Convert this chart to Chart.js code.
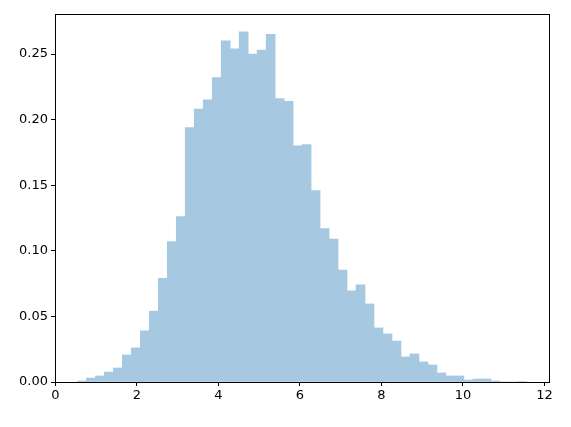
<!DOCTYPE html>
<html><head><meta charset="utf-8">
<script src="https://cdn.jsdelivr.net/npm/chart.js@4"></script>
<style>html,body{margin:0;padding:0;background:#fff}#c{display:block}</style>
</head><body>
<div style="width:571px;height:427px"><canvas id="c"></canvas></div>
<script>
const binStart = 0.54;
const binWidth = 0.2205;
const density = [0.0008,0.003,0.0046,0.0076,0.0107,0.0206,0.026,0.039,0.054,0.079,
0.107,0.126,0.194,0.208,0.215,0.232,0.260,0.254,0.267,0.250,
0.253,0.265,0.216,0.214,0.180,0.181,0.146,0.117,0.109,0.0854,
0.0694,0.0740,0.0595,0.0412,0.0366,0.0312,0.0191,0.0214,0.0153,0.0130,
0.0069,0.0046,0.0046,0.0015,0.0023,0.0023,0.0008,0,0,0.0004];
const xTicks = [0,2,4,6,8,10,12];
const yTicks = [0,0.05,0.10,0.15,0.20,0.25];

const pts = density.map((v,i)=>({x: binStart + binWidth*(i+0.5), y: v}));
const frame = {id:'frame', afterDraw(ch){const a=ch.chartArea,c=ch.ctx;c.save();c.strokeStyle='#000';c.lineWidth=1;c.strokeRect(Math.round(a.left)+0.5,Math.round(a.top)+0.5,Math.round(a.right-a.left),Math.round(a.bottom-a.top));c.restore();}};
Chart.defaults.font.family = 'DejaVu Sans';
Chart.defaults.font.size = 13;
Chart.defaults.color = '#000';
new Chart(document.getElementById('c'), {
  type: 'bar',
  data: {datasets: [{data: pts, backgroundColor: 'rgb(166,200,224)', borderWidth: 0, barPercentage: 1, categoryPercentage: 1, grouped: false}]},
  options: {
    responsive: true, maintainAspectRatio: false, animation: false,
    layout: {padding: {top: 14, right: 22, left: 0, bottom: 0}},
    plugins: {legend: {display: false}, tooltip: {enabled: false}},
    scales: {
      x: {type: 'linear', min: -0.01, max: 12.11, offset: false,
          afterBuildTicks: s => { s.ticks = xTicks.map(v=>({value:v})); },
          ticks: {callback: v => String(v), maxRotation: 0, padding: 2},
          grid: {drawOnChartArea: false, tickColor: '#000', tickLength: 4, offset: false},
          border: {color: '#000'},
          afterFit: s => { s.height = 45; }},
      y: {min: 0, max: 0.2805,
          afterBuildTicks: s => { s.ticks = yTicks.map(v=>({value:v})); },
          ticks: {callback: v => v.toFixed(2), padding: 3},
          grid: {drawOnChartArea: false, tickColor: '#000', tickLength: 4},
          border: {color: '#000'},
          afterFit: s => { s.width = 55; }}
    }
  },
  plugins: [frame]
});
</script>
</body></html>
